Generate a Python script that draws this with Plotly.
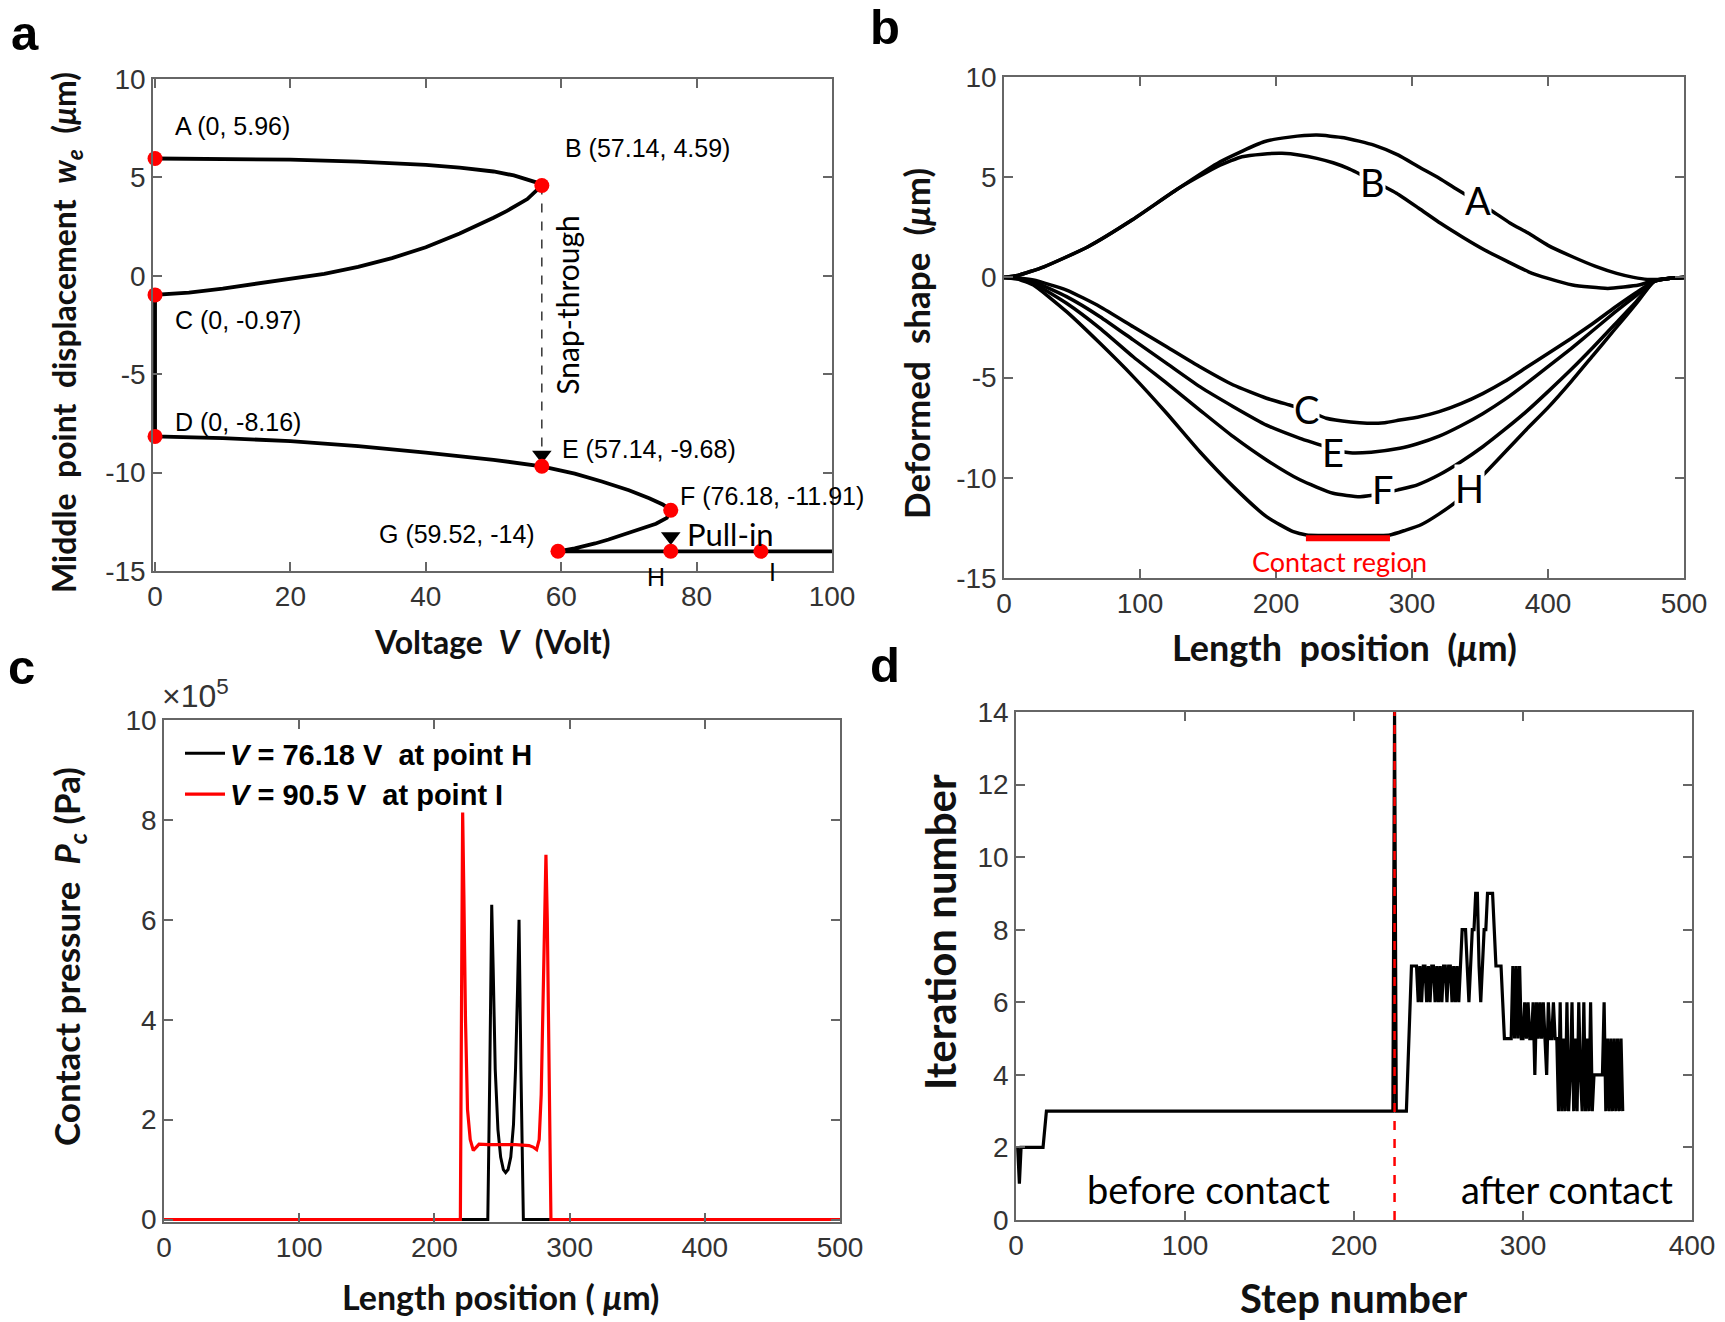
import plotly.graph_objects as go

W, H = 1725, 1322

# ---------------- Panel a: middle point displacement vs voltage ----------------
a_V = [0, 10, 20, 30, 40, 45, 50, 53, 55, 56.3, 57.14,
       56.3, 55, 52, 50, 45, 40, 35, 30, 25, 20, 15, 10, 5, 0,
       0, 10, 20, 30, 40, 50, 57.14, 62, 66, 70, 73, 75, 76.18,
       75.6, 74, 72, 70, 67, 65, 62, 59.52, 70, 80, 90, 100]
a_w = [5.96, 5.94, 5.9, 5.8, 5.64, 5.5, 5.3, 5.1, 4.9, 4.75, 4.59,
       4.3, 3.9, 3.3, 2.95, 2.15, 1.45, 0.9, 0.45, 0.1, -0.15, -0.4, -0.65, -0.85, -0.97,
       -8.16, -8.25, -8.4, -8.65, -8.98, -9.35, -9.68, -10.05, -10.45, -10.9, -11.3, -11.62, -11.91,
       -12.3, -12.6, -12.85, -13.06, -13.4, -13.6, -13.85, -14.0, -14.0, -14.0, -14.0, -14.0]
pt_names = ["A", "B", "C", "D", "E", "F", "G", "H", "I"]
pt_V = [0, 57.14, 0, 0, 57.14, 76.18, 59.52, 76.18, 89.5]
pt_w = [5.96, 4.59, -0.97, -8.16, -9.68, -11.91, -14.0, -14.0, -14.0]
snap_V = [57.14, 57.14]
snap_w = [4.59, -8.85]
arrow_V = [57.14, 76.18]
arrow_w = [-9.1, -13.25]
a_xticks = [0, 20, 40, 60, 80, 100]
a_yticks = [-15, -10, -5, 0, 5, 10]

# ---------------- Panel b: deformed shapes ----------------
bA_x = [0, 10, 29.4, 61.8, 94.1, 126.5, 158.9, 191.2, 210, 230, 250, 272, 290, 304.8, 320, 333.8, 348.5, 359.6, 372, 385.7, 400, 418, 435, 450.5, 463, 473, 480, 490, 500]
bA_y = [0, 0.1, 0.53, 1.53, 2.86, 4.36, 5.77, 6.77, 7.0, 7.1, 6.97, 6.6, 6.1, 5.52, 4.95, 4.36, 3.75, 3.28, 2.72, 2.2, 1.6, 1.03, 0.55, 0.2, 0.0, -0.1, -0.1, -0.04, 0]
bB_x = [0, 10, 29.4, 61.8, 94.1, 126.5, 142, 158.9, 175, 190, 204.4, 218, 230, 242, 253, 270.6, 288.6, 305, 321, 337, 353.4, 370, 385.7, 400, 418, 444, 466.8, 478, 490, 500]
bB_y = [0, 0.1, 0.53, 1.53, 2.86, 4.36, 4.98, 5.6, 6.02, 6.15, 6.19, 6.1, 5.94, 5.72, 5.44, 4.85, 4.2, 3.45, 2.7, 2.02, 1.37, 0.8, 0.28, -0.05, -0.38, -0.55, -0.38, -0.15, -0.04, 0]
bC_x = [0, 10, 21.6, 46, 70.6, 95, 119.6, 144, 168.6, 193, 210, 222.5, 237, 255, 267, 280, 291, 304, 320, 336, 352, 368, 384, 400, 417, 433, 449, 465, 478, 490, 500]
bC_y = [0, -0.03, -0.13, -0.63, -1.46, -2.46, -3.46, -4.46, -5.37, -6.03, -6.37, -6.62, -7.03, -7.22, -7.28, -7.25, -7.12, -6.98, -6.7, -6.3, -5.8, -5.2, -4.5, -3.8, -3.05, -2.3, -1.5, -0.75, -0.2, -0.04, 0]
bE_x = [0, 10, 21.6, 46, 70.6, 95, 119.6, 144, 168.6, 193, 217.6, 232.4, 242, 254.4, 270, 291, 304, 320, 336, 352, 368, 384, 400, 417, 433, 449, 465, 478, 490, 500]
bE_y = [0, -0.05, -0.21, -0.96, -1.96, -3.12, -4.29, -5.45, -6.45, -7.37, -8.03, -8.36, -8.6, -8.75, -8.72, -8.53, -8.3, -7.92, -7.4, -6.8, -6.1, -5.3, -4.45, -3.55, -2.65, -1.75, -0.9, -0.2, -0.04, 0]
bF_x = [0, 10, 21.6, 46, 70.6, 95, 119.6, 144, 168.6, 193, 217.6, 242, 261.8, 277.7, 290, 304, 320, 336, 352, 368, 384, 400, 417, 433, 449, 465, 478, 490, 500]
bF_y = [0, -0.06, -0.3, -1.29, -2.54, -3.96, -5.28, -6.62, -7.95, -9.11, -10.1, -10.77, -10.94, -10.8, -10.6, -10.35, -9.85, -9.2, -8.45, -7.6, -6.7, -5.7, -4.6, -3.5, -2.35, -1.2, -0.2, -0.04, 0]
bH_x = [0, 10, 21.6, 46, 70.6, 95, 119.6, 144, 168.6, 193, 212.7, 222.5, 250, 283.8, 295, 307, 320, 333, 343, 355, 370, 384, 400, 417, 433, 449, 465, 478, 490, 500]
bH_y = [0, -0.08, -0.38, -1.71, -3.29, -4.95, -6.78, -8.7, -10.44, -11.94, -12.69, -12.85, -12.88, -12.85, -12.62, -12.33, -11.8, -11.16, -10.5, -9.67, -8.6, -7.6, -6.5, -5.2, -3.9, -2.6, -1.3, -0.2, -0.04, 0]
b_curves = [(bA_x, bA_y), (bB_x, bB_y), (bC_x, bC_y), (bE_x, bE_y), (bF_x, bF_y), (bH_x, bH_y)]
b_label_text = ["A", "B", "C", "E", "F", "H"]
b_label_x = [348.5, 270.6, 222.5, 242, 278.5, 342.6]
b_label_y = [3.85, 4.78, -6.55, -8.7, -10.55, -10.5]
contact_x = [222, 283.8]
contact_y = [-13.02, -13.02]
b_xticks = [0, 100, 200, 300, 400, 500]
b_yticks = [-15, -10, -5, 0, 5, 10]

# ---------------- Panel c: contact pressure (in units of 1e5 Pa) ----------------
cH_x = [0, 239.5, 241, 242.4, 243.5, 245, 247, 249, 251, 252.7, 254.5, 256.5, 258.5, 260, 261.5, 262.6, 264, 265.8, 500]
cH_p = [0, 0, 3.0, 6.3, 5.0, 3.0, 1.8, 1.25, 1.0, 0.94, 1.0, 1.25, 1.9, 3.0, 4.6, 6.0, 3.0, 0, 0]
cI_x = [0, 219.2, 220.2, 220.9, 221.8, 223, 224.5, 226.5, 228.8, 231, 233, 240, 250, 260, 270, 273, 275.6, 277.5, 279, 280.5, 281.8, 282.5, 283.5, 285, 286.2, 500]
cI_p = [0, 0, 5.0, 8.15, 6.5, 4.0, 2.2, 1.6, 1.38, 1.45, 1.51, 1.5, 1.5, 1.5, 1.48, 1.45, 1.40, 1.6, 2.5, 4.5, 6.8, 7.3, 6.0, 2.5, 0, 0]
c_xticks = [0, 100, 200, 300, 400, 500]
c_yticks = [0, 2, 4, 6, 8, 10]

# ---------------- Panel d: iteration number vs step ----------------
d_step = [1, 2, 3, 16, 18, 223, 224, 225, 231, 234, 237,
          238, 239, 240, 241, 242, 243, 244, 245, 246, 247, 248, 249, 250, 251, 252, 253, 254, 255, 256, 257,
          258, 259, 260, 261, 262, 263, 264, 265, 266, 267, 268, 269, 270, 271, 272, 273, 274, 275, 276, 277,
          278, 279, 280, 281, 282, 283, 284, 285, 286, 287, 288, 289, 290, 291, 292, 293, 294, 295, 296, 297,
          298, 299, 300, 301, 302, 303, 304, 305, 306, 307, 308, 309, 310, 311, 312, 313, 314, 315, 316, 317,
          318, 319, 320, 321, 322, 323, 324, 325, 326, 327, 328, 329, 330, 331, 332, 333, 334, 335, 336, 337,
          338, 339, 340, 341, 342, 343, 344, 345, 346, 347, 348, 349, 350, 351, 352, 353, 354, 355, 356, 357,
          358, 359]
d_iter = [2, 1, 2, 2, 3, 3, 14, 3, 3, 7, 7,
          6, 7, 6, 7, 7, 6, 7, 6, 7, 7, 6, 7, 6, 7, 6, 7, 7, 6, 7, 7,
          6, 7, 6, 7, 6, 7, 8, 8, 8, 7, 6, 7, 8, 8, 9, 9, 7, 6, 7, 8,
          8, 9, 9, 9, 9, 8, 7, 7, 7, 7, 6, 5, 5, 5, 5, 5, 7, 5, 7, 5,
          7, 5, 5, 6, 5, 6, 5, 5, 6, 4, 6, 5, 6, 5, 6, 5, 4, 6, 5, 5,
          6, 5, 5, 3, 6, 3, 5, 3, 6, 3, 4, 6, 3, 5, 3, 6, 4, 3, 6, 3,
          5, 3, 6, 3, 4, 4, 4, 4, 4, 4, 6, 3, 5, 3, 5, 3, 5, 3, 5, 3,
          5, 3]
contact_step = [224, 224]
contact_iter = [0, 14]
d_xticks = [0, 100, 200, 300, 400]
d_yticks = [0, 2, 4, 6, 8, 10, 12, 14]

# ---------------- Figure ----------------
TICKFONT = dict(family="Liberation Sans, Arial", size=28, color="#333333")
CAL = "Lato, Open Sans, sans-serif"


def px_dom(a, b, total, flip=False):
    if flip:
        return [1 - b / total, 1 - a / total]
    return [a / total, b / total]


def axis(domain, rng, ticks, anchor):
    return dict(domain=domain, range=rng, tickvals=ticks, ticktext=[str(t) for t in ticks],
                ticks="inside", ticklen=9, tickwidth=1.5, tickcolor="#666666",
                showline=True, linecolor="#666666", linewidth=1.5, mirror="ticks",
                showgrid=False, zeroline=False, tickfont=TICKFONT, anchor=anchor,
                automargin=False, fixedrange=True)


fig = go.Figure()

# Panel a
fig.add_trace(go.Scatter(x=a_V, y=a_w, mode="lines", line=dict(color="black", width=3.8),
                         xaxis="x", yaxis="y", showlegend=False))
fig.add_trace(go.Scatter(x=snap_V, y=snap_w, mode="lines", line=dict(color="black", width=1.2, dash="dash"),
                         xaxis="x", yaxis="y", showlegend=False))
fig.add_trace(go.Scatter(x=arrow_V, y=arrow_w, mode="markers",
                         marker=dict(symbol="triangle-down", size=17, color="black"),
                         xaxis="x", yaxis="y", showlegend=False))
fig.add_trace(go.Scatter(x=pt_V, y=pt_w, mode="markers", marker=dict(size=15, color="#ff0000"),
                         xaxis="x", yaxis="y", showlegend=False, cliponaxis=False))

# Panel b
for cx, cy in b_curves:
    fig.add_trace(go.Scatter(x=cx, y=cy, mode="lines",
                             line=dict(color="black", width=3.5, shape="spline", smoothing=0.5),
                             xaxis="x2", yaxis="y2", showlegend=False))
fig.add_trace(go.Scatter(x=contact_x, y=contact_y, mode="lines", line=dict(color="#ff0000", width=6),
                         xaxis="x2", yaxis="y2", showlegend=False))

# Panel c
fig.add_trace(go.Scatter(x=cH_x, y=cH_p, mode="lines", line=dict(color="black", width=3),
                         xaxis="x3", yaxis="y3",
                         name="<b><i>V</i> = 76.18 V  at point H</b>", legend="legend"))
fig.add_trace(go.Scatter(x=cI_x, y=cI_p, mode="lines", line=dict(color="#ff0000", width=3.2),
                         xaxis="x3", yaxis="y3",
                         name="<b><i>V</i> = 90.5 V  at point I</b>", legend="legend"))

# Panel d
fig.add_trace(go.Scatter(x=d_step, y=d_iter, mode="lines", line=dict(color="black", width=3.2),
                         xaxis="x4", yaxis="y4", showlegend=False))
fig.add_trace(go.Scatter(x=contact_step, y=contact_iter, mode="lines",
                         line=dict(color="#ff0000", width=2.5, dash="dash"),
                         xaxis="x4", yaxis="y4", showlegend=False))

ann = []
# panel letters
for letter, (lx, ly) in zip("abcd", [(9, 33), (868, 27), (6, 667), (868, 665)]):
    ann.append(dict(text="<b>" + letter + "</b>", x=lx / W, y=1 - ly / H, xref="paper", yref="paper",
                    xanchor="left", yanchor="middle", showarrow=False,
                    font=dict(family="Liberation Sans, Arial", size=49, color="black")))

# panel a point labels
a_labels = [("A (0, 5.96)", 2.7, 7.6, "left"), ("B (57.14, 4.59)", 60.3, 6.5, "left"),
            ("C (0, -0.97)", 2.7, -2.25, "left"), ("D (0, -8.16)", 2.7, -7.45, "left"),
            ("E (57.14, -9.68)", 59.8, -8.8, "left"), ("F (76.18, -11.91)", 77.3, -11.2, "left"),
            ("G (59.52, -14)", 56.4, -13.1, "right")]
for t, lx, ly, anc in a_labels:
    ann.append(dict(text=t, x=lx, y=ly, xref="x", yref="y", xanchor=anc, yanchor="middle",
                    showarrow=False, font=dict(family="Liberation Sans, Arial", size=25, color="black")))
ann.append(dict(text="H", x=74.0, y=-15, xref="x", yref="y", yanchor="middle", yshift=-6,
                showarrow=False, font=dict(family="Liberation Sans, Arial", size=25, color="black")))
ann.append(dict(text="I", x=91.2, y=-15, xref="x", yref="y", yanchor="middle", yshift=-1,
                showarrow=False, font=dict(family="Liberation Sans, Arial", size=25, color="black")))
ann.append(dict(text="Pull-in", x=78.3, y=-13.1, xref="x", yref="y", xanchor="left", yanchor="middle",
                showarrow=False, font=dict(family=CAL, size=31, color="black")))
ann.append(dict(text="Snap-through", x=60.9, y=-1.5, xref="x", yref="y", textangle=-90,
                showarrow=False, font=dict(family=CAL, size=30, color="black")))

# panel b curve labels
for t, lx, ly in zip(b_label_text, b_label_x, b_label_y):
    ann.append(dict(text=t, x=lx, y=ly, xref="x2", yref="y2", showarrow=False, bgcolor="white",
                    borderpad=0, font=dict(family=CAL, size=38, color="black")))
ann.append(dict(text="Contact region", x=247, y=-14.2, xref="x2", yref="y2", showarrow=False,
                font=dict(family=CAL, size=27, color="#ff0000")))

# panel c exponent
ann.append(dict(text="×10<sup>5</sup>", x=160 / W, y=1 - 694 / H, xref="paper", yref="paper",
                xanchor="left", yanchor="middle", showarrow=False,
                font=dict(family="Liberation Sans, Arial", size=32, color="#333333")))

# panel d texts
ann.append(dict(text="before contact", x=114, y=0.85, xref="x4", yref="y4", showarrow=False,
                font=dict(family=CAL, size=38, color="black")))
ann.append(dict(text="after contact", x=326, y=0.85, xref="x4", yref="y4", showarrow=False,
                font=dict(family=CAL, size=38, color="black")))

# axis titles
titles = [
    ("<b>Voltage  <i>V</i>  (Volt)</b>", 492, 641, 0, 32),
    ("<b>Middle  point  displacement  <i>w<sub>e</sub></i>  (<i>μ</i>m)</b>", 66, 333, -90, 32),
    ("<b>Length  position  (<i>μ</i>m)</b>", 1344, 647, 0, 36),
    ("<b>Deformed  shape  (<i>μ</i>m)</b>", 916, 344, -90, 35),
    ("<b>Length position ( <i>μ</i>m)</b>", 500, 1296, 0, 34),
    ("<b>Contact pressure  <i>P<sub>c</sub></i> (Pa)</b>", 68, 957, -90, 35),
    ("<b>Step number</b>", 1353, 1298, 0, 40),
    ("<b>Iteration number</b>", 940, 932, -90, 42),
]
for t, tx, ty, ang, sz in titles:
    ann.append(dict(text=t, x=tx / W, y=1 - ty / H, xref="paper", yref="paper", textangle=ang,
                    xanchor="center", yanchor="middle", showarrow=False,
                    font=dict(family=CAL, size=sz, color="#111111")))

fig.update_layout(
    width=W, height=H, margin=dict(l=0, r=0, t=0, b=0, autoexpand=False),
    paper_bgcolor="white", plot_bgcolor="white",
    xaxis=axis(px_dom(153, 832, W), [-0.3, 100], a_xticks, "y"),
    yaxis=axis(px_dom(79, 571, H, flip=True), [-15, 10], a_yticks, "x"),
    xaxis2=axis(px_dom(1004, 1684, W), [0, 500], b_xticks, "y2"),
    yaxis2=axis(px_dom(77, 578, H, flip=True), [-15, 10], b_yticks, "x2"),
    xaxis3=axis(px_dom(164, 840, W), [0, 500], c_xticks, "y3"),
    yaxis3=axis(px_dom(720, 1222, H, flip=True), [-0.05, 10], c_yticks, "x3"),
    xaxis4=axis(px_dom(1016, 1692, W), [0, 400], d_xticks, "y4"),
    yaxis4=axis(px_dom(712, 1220, H, flip=True), [0, 14], d_yticks, "x4"),
    legend=dict(x=180 / W, y=1 - 728 / H, xanchor="left", yanchor="top", bgcolor="rgba(0,0,0,0)",
                font=dict(family="Liberation Sans, Arial", size=29, color="black"),
                itemwidth=40, tracegroupgap=0),
    annotations=ann,
)

fig.write_html("out.html")
